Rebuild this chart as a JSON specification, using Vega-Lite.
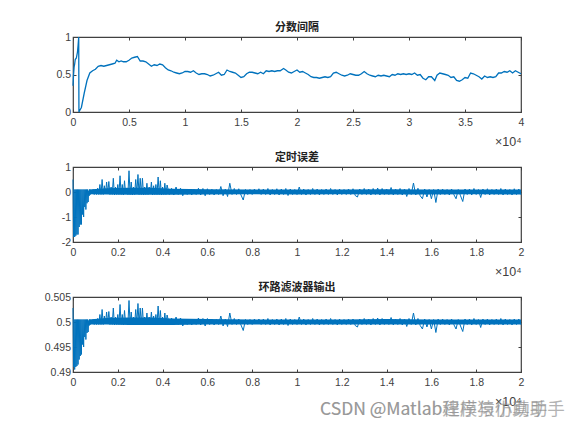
{"$schema":"https://vega.github.io/schema/vega-lite/v6.json","padding":{"left":43,"top":21,"right":5,"bottom":5},"background":"white","bounds":"flush","spacing":55,
"config":{"view":{"stroke":"#404040","strokeWidth":1.2},"title":{"font":"Noto Sans CJK SC","fontSize":11,"fontWeight":"bold","color":"#222222","offset":-1},
"axis":{"grid":false,"domain":false,"labelFlush":false,"labelOverlap":false,"tickColor":"#404040","tickSize":-3,"tickWidth":1,"labelFont":"Liberation Sans","labelFontSize":10.5,"labelColor":"#404040","labelAngle":0,"titleFont":"Liberation Sans","titleFontWeight":"normal","titleFontSize":12.5,"titleColor":"#404040"},"axisX":{"labelPadding":8},"axisY":{"labelPadding":5.5}},
"datasets":{"frac":[{"x":0,"y":0.35},{"x":50,"y":0.5},{"x":100,"y":0.6},{"x":150,"y":0.64},{"x":200,"y":0.7},{"x":300,"y":0.72},{"x":400,"y":0.8},{"x":450,"y":0.88},{"x":510,"y":1},{"x":530,"y":0},{"x":600,"y":0.02},{"x":750,"y":0.06},{"x":1000,"y":0.25},{"x":1250,"y":0.42},{"x":1500,"y":0.52},{"x":1750,"y":0.55},{"x":2000,"y":0.57},{"x":2250,"y":0.61},{"x":2500,"y":0.62},{"x":2750,"y":0.61},{"x":3000,"y":0.62},{"x":3250,"y":0.63},{"x":3500,"y":0.64},{"x":3750,"y":0.65},{"x":3900,"y":0.69},{"x":4100,"y":0.67},{"x":4300,"y":0.68},{"x":4500,"y":0.67},{"x":4750,"y":0.67},{"x":5000,"y":0.69},{"x":5250,"y":0.72},{"x":5500,"y":0.73},{"x":5750,"y":0.74},{"x":6000,"y":0.68},{"x":6250,"y":0.68},{"x":6500,"y":0.67},{"x":6750,"y":0.64},{"x":7000,"y":0.61},{"x":7250,"y":0.63},{"x":7500,"y":0.62},{"x":7750,"y":0.64},{"x":8000,"y":0.63},{"x":8250,"y":0.59},{"x":8500,"y":0.56},{"x":8750,"y":0.55},{"x":9000,"y":0.53},{"x":9250,"y":0.52},{"x":9500,"y":0.51},{"x":9750,"y":0.52},{"x":10000,"y":0.54},{"x":10250,"y":0.54},{"x":10500,"y":0.53},{"x":10750,"y":0.55},{"x":11000,"y":0.52},{"x":11250,"y":0.5},{"x":11500,"y":0.51},{"x":11750,"y":0.51},{"x":12000,"y":0.5},{"x":12250,"y":0.48},{"x":12500,"y":0.49},{"x":12750,"y":0.51},{"x":13000,"y":0.53},{"x":13250,"y":0.49},{"x":13500,"y":0.5},{"x":13750,"y":0.56},{"x":14000,"y":0.54},{"x":14250,"y":0.53},{"x":14500,"y":0.52},{"x":14750,"y":0.49},{"x":15000,"y":0.46},{"x":15250,"y":0.47},{"x":15500,"y":0.51},{"x":15750,"y":0.53},{"x":16000,"y":0.53},{"x":16250,"y":0.52},{"x":16500,"y":0.51},{"x":16750,"y":0.53},{"x":17000,"y":0.51},{"x":17250,"y":0.55},{"x":17500,"y":0.54},{"x":17750,"y":0.55},{"x":18000,"y":0.54},{"x":18250,"y":0.55},{"x":18500,"y":0.55},{"x":18800,"y":0.58},{"x":19000,"y":0.56},{"x":19250,"y":0.53},{"x":19500,"y":0.52},{"x":19750,"y":0.54},{"x":20000,"y":0.56},{"x":20250,"y":0.53},{"x":20500,"y":0.54},{"x":20750,"y":0.52},{"x":21000,"y":0.5},{"x":21250,"y":0.47},{"x":21500,"y":0.46},{"x":21750,"y":0.46},{"x":22000,"y":0.45},{"x":22250,"y":0.46},{"x":22500,"y":0.47},{"x":22750,"y":0.46},{"x":23000,"y":0.47},{"x":23250,"y":0.52},{"x":23500,"y":0.53},{"x":23750,"y":0.51},{"x":24000,"y":0.49},{"x":24250,"y":0.48},{"x":24500,"y":0.49},{"x":24750,"y":0.51},{"x":25000,"y":0.5},{"x":25250,"y":0.49},{"x":25500,"y":0.49},{"x":25750,"y":0.51},{"x":26000,"y":0.54},{"x":26250,"y":0.51},{"x":26500,"y":0.49},{"x":26750,"y":0.48},{"x":27000,"y":0.47},{"x":27250,"y":0.49},{"x":27500,"y":0.48},{"x":27750,"y":0.49},{"x":28000,"y":0.48},{"x":28250,"y":0.47},{"x":28500,"y":0.5},{"x":28750,"y":0.49},{"x":29000,"y":0.51},{"x":29250,"y":0.5},{"x":29500,"y":0.51},{"x":29750,"y":0.5},{"x":30000,"y":0.51},{"x":30250,"y":0.5},{"x":30500,"y":0.52},{"x":30750,"y":0.49},{"x":31000,"y":0.5},{"x":31250,"y":0.45},{"x":31500,"y":0.43},{"x":31750,"y":0.47},{"x":32000,"y":0.47},{"x":32300,"y":0.42},{"x":32500,"y":0.49},{"x":32750,"y":0.52},{"x":33000,"y":0.51},{"x":33250,"y":0.5},{"x":33500,"y":0.49},{"x":33750,"y":0.46},{"x":34000,"y":0.47},{"x":34250,"y":0.42},{"x":34500,"y":0.41},{"x":34750,"y":0.43},{"x":35000,"y":0.46},{"x":35250,"y":0.45},{"x":35500,"y":0.52},{"x":35750,"y":0.51},{"x":36000,"y":0.49},{"x":36250,"y":0.47},{"x":36500,"y":0.44},{"x":36750,"y":0.48},{"x":37000,"y":0.46},{"x":37250,"y":0.47},{"x":37500,"y":0.46},{"x":37750,"y":0.47},{"x":38000,"y":0.52},{"x":38250,"y":0.52},{"x":38500,"y":0.54},{"x":38750,"y":0.53},{"x":39000,"y":0.55},{"x":39250,"y":0.52},{"x":39500,"y":0.55},{"x":39750,"y":0.53},{"x":40000,"y":0.51}],
"band":[{"x":700,"lo":-0.09,"hi":0.1,"flo":0.4995,"fhi":0.5005},{"x":1500,"lo":-0.1,"hi":0.15,"flo":0.4995,"fhi":0.5008},{"x":2500,"lo":-0.11,"hi":0.17,"flo":0.4994,"fhi":0.5009},{"x":3500,"lo":-0.11,"hi":0.17,"flo":0.4994,"fhi":0.5009},{"x":4400,"lo":-0.11,"hi":0.13,"flo":0.4994,"fhi":0.5007},{"x":6000,"lo":-0.1,"hi":0.11,"flo":0.4995,"fhi":0.5006},{"x":8000,"lo":-0.09,"hi":0.1,"flo":0.4995,"fhi":0.5005},{"x":10000,"lo":-0.1,"hi":0.1,"flo":0.4995,"fhi":0.5005},{"x":12000,"lo":-0.09,"hi":0.1,"flo":0.4995,"fhi":0.5005},{"x":14000,"lo":-0.1,"hi":0.11,"flo":0.4995,"fhi":0.5006},{"x":16000,"lo":-0.1,"hi":0.1,"flo":0.4995,"fhi":0.5005},{"x":18000,"lo":-0.09,"hi":0.1,"flo":0.4995,"fhi":0.5005},{"x":20000,"lo":-0.1,"hi":0.1,"flo":0.4995,"fhi":0.5005}],
"timing":[{"x":0,"e":0.5,"f":0.5028},{"x":25,"e":-1.8,"f":0.491},{"x":50,"e":0.1,"f":0.5005},{"x":75,"e":-1.8,"f":0.4905},{"x":100,"e":0.1,"f":0.5005},{"x":125,"e":-1.75,"f":0.491},{"x":150,"e":0.1,"f":0.5005},{"x":175,"e":-1.7,"f":0.4912},{"x":200,"e":0.1,"f":0.5005},{"x":225,"e":-1.7,"f":0.4915},{"x":250,"e":0.1,"f":0.5005},{"x":275,"e":-1.4,"f":0.4925},{"x":300,"e":0.1,"f":0.5005},{"x":325,"e":-1.3,"f":0.4932},{"x":350,"e":0.1,"f":0.5005},{"x":375,"e":-1.3,"f":0.4935},{"x":400,"e":0.1,"f":0.5005},{"x":425,"e":-0.9,"f":0.4955},{"x":450,"e":0.1,"f":0.5005},{"x":475,"e":-1,"f":0.495},{"x":500,"e":0.1,"f":0.5005},{"x":525,"e":-0.6,"f":0.497},{"x":550,"e":0.1,"f":0.5005},{"x":575,"e":-0.7,"f":0.4965},{"x":600,"e":0.1,"f":0.5005},{"x":625,"e":-0.45,"f":0.4978},{"x":650,"e":0.1,"f":0.5005},{"x":675,"e":-0.4,"f":0.498},{"x":700,"e":0.05,"f":0.5003},{"x":725,"e":-0.15,"f":0.4993},{"x":750,"e":0.1,"f":0.5005},{"x":775,"e":-0.1,"f":0.4995},{"x":800,"e":0.08,"f":0.5004},{"x":850,"e":-0.08,"f":0.4996},{"x":900,"e":0.1,"f":0.5005},{"x":950,"e":-0.1,"f":0.4995},{"x":1000,"e":0.12,"f":0.5006},{"x":1050,"e":-0.1,"f":0.4995},{"x":1100,"e":0.15,"f":0.5007},{"x":1150,"e":-0.1,"f":0.4995},{"x":1200,"e":0.3,"f":0.5015},{"x":1250,"e":-0.1,"f":0.4995},{"x":1300,"e":0.5,"f":0.5025},{"x":1350,"e":-0.1,"f":0.4995},{"x":1400,"e":0.25,"f":0.5012},{"x":1450,"e":-0.08,"f":0.4996},{"x":1500,"e":0.4,"f":0.502},{"x":1550,"e":-0.05,"f":0.4997},{"x":1600,"e":0.42,"f":0.5021},{"x":1650,"e":-0.1,"f":0.4995},{"x":1700,"e":0.2,"f":0.501},{"x":1750,"e":-0.1,"f":0.4995},{"x":1800,"e":0.55,"f":0.5028},{"x":1850,"e":-0.12,"f":0.4994},{"x":1900,"e":0.2,"f":0.501},{"x":1950,"e":-0.1,"f":0.4995},{"x":2000,"e":0.3,"f":0.5015},{"x":2050,"e":-0.1,"f":0.4995},{"x":2100,"e":0.65,"f":0.5035},{"x":2150,"e":-0.1,"f":0.4995},{"x":2200,"e":0.3,"f":0.5015},{"x":2250,"e":-0.12,"f":0.4994},{"x":2300,"e":0.45,"f":0.5023},{"x":2350,"e":-0.08,"f":0.4996},{"x":2400,"e":0.15,"f":0.5008},{"x":2450,"e":-0.1,"f":0.4995},{"x":2500,"e":0.85,"f":0.5043},{"x":2550,"e":-0.1,"f":0.4995},{"x":2600,"e":0.4,"f":0.502},{"x":2650,"e":-0.12,"f":0.4994},{"x":2700,"e":0.2,"f":0.501},{"x":2750,"e":-0.1,"f":0.4995},{"x":2800,"e":0.5,"f":0.5025},{"x":2850,"e":-0.05,"f":0.4997},{"x":2900,"e":0.7,"f":0.5037},{"x":2950,"e":-0.1,"f":0.4995},{"x":3000,"e":0.55,"f":0.5028},{"x":3050,"e":-0.1,"f":0.4995},{"x":3100,"e":0.55,"f":0.5028},{"x":3150,"e":-0.12,"f":0.4994},{"x":3200,"e":0.2,"f":0.501},{"x":3250,"e":-0.1,"f":0.4995},{"x":3300,"e":0.35,"f":0.5018},{"x":3350,"e":-0.1,"f":0.4995},{"x":3400,"e":0.2,"f":0.501},{"x":3450,"e":-0.08,"f":0.4996},{"x":3500,"e":0.4,"f":0.502},{"x":3550,"e":-0.12,"f":0.4994},{"x":3600,"e":0.25,"f":0.5012},{"x":3650,"e":-0.1,"f":0.4995},{"x":3700,"e":0.3,"f":0.5015},{"x":3750,"e":-0.1,"f":0.4995},{"x":3800,"e":0.6,"f":0.5032},{"x":3850,"e":-0.1,"f":0.4995},{"x":3900,"e":0.45,"f":0.5023},{"x":3950,"e":-0.12,"f":0.4994},{"x":4000,"e":0.2,"f":0.501},{"x":4050,"e":-0.1,"f":0.4995},{"x":4100,"e":0.35,"f":0.5018},{"x":4150,"e":-0.1,"f":0.4995},{"x":4200,"e":0.28,"f":0.5014},{"x":4300,"e":-0.1,"f":0.4995},{"x":4400,"e":0.15,"f":0.5008},{"x":4500,"e":-0.12,"f":0.4994},{"x":4600,"e":0.2,"f":0.501},{"x":4700,"e":-0.1,"f":0.4995},{"x":4800,"e":0.15,"f":0.5008},{"x":4900,"e":-0.15,"f":0.4992},{"x":5000,"e":0.12,"f":0.5006},{"x":5100,"e":-0.1,"f":0.4995},{"x":5200,"e":0.1,"f":0.5005},{"x":5300,"e":-0.12,"f":0.4994},{"x":5400,"e":0.1,"f":0.5005},{"x":5500,"e":-0.1,"f":0.4995},{"x":5600,"e":0.15,"f":0.5008},{"x":5700,"e":-0.12,"f":0.4994},{"x":5800,"e":0.14,"f":0.5007},{"x":5900,"e":-0.15,"f":0.4992},{"x":6000,"e":0.13,"f":0.5007},{"x":6100,"e":-0.1,"f":0.4995},{"x":6200,"e":0.11,"f":0.5006},{"x":6300,"e":-0.12,"f":0.4994},{"x":6400,"e":0.1,"f":0.5005},{"x":6500,"e":-0.1,"f":0.4995},{"x":6600,"e":0.22,"f":0.5012},{"x":6700,"e":-0.15,"f":0.4992},{"x":6800,"e":0.12,"f":0.5006},{"x":6900,"e":-0.18,"f":0.4991},{"x":7000,"e":0.35,"f":0.5018},{"x":7100,"e":-0.1,"f":0.4995},{"x":7200,"e":0.14,"f":0.5007},{"x":7300,"e":-0.1,"f":0.4995},{"x":7400,"e":0.13,"f":0.5006},{"x":7500,"e":-0.12,"f":0.4994},{"x":7600,"e":-0.32,"f":0.4983},{"x":7700,"e":0.1,"f":0.5005},{"x":7800,"e":-0.1,"f":0.4995},{"x":7900,"e":0.1,"f":0.5005},{"x":8000,"e":-0.1,"f":0.4995},{"x":8100,"e":0.12,"f":0.5006},{"x":8200,"e":-0.08,"f":0.4996},{"x":8300,"e":0.13,"f":0.5006},{"x":8400,"e":-0.1,"f":0.4995},{"x":8500,"e":0.12,"f":0.5006},{"x":8600,"e":-0.1,"f":0.4995},{"x":8700,"e":0.14,"f":0.5007},{"x":8800,"e":-0.12,"f":0.4994},{"x":8900,"e":0.1,"f":0.5005},{"x":9000,"e":-0.1,"f":0.4995},{"x":9100,"e":0.13,"f":0.5006},{"x":9200,"e":-0.12,"f":0.4994},{"x":9300,"e":0.12,"f":0.5006},{"x":9400,"e":-0.1,"f":0.4995},{"x":9500,"e":0.14,"f":0.5007},{"x":9600,"e":-0.14,"f":0.4993},{"x":9700,"e":0.12,"f":0.5006},{"x":9800,"e":-0.1,"f":0.4995},{"x":9900,"e":0.1,"f":0.5005},{"x":10000,"e":-0.1,"f":0.4995},{"x":10100,"e":0.2,"f":0.501},{"x":10200,"e":-0.1,"f":0.4995},{"x":10300,"e":0.12,"f":0.5006},{"x":10400,"e":-0.12,"f":0.4994},{"x":10500,"e":0.1,"f":0.5005},{"x":10600,"e":-0.1,"f":0.4995},{"x":10700,"e":0.14,"f":0.5007},{"x":10800,"e":-0.1,"f":0.4995},{"x":10900,"e":0.12,"f":0.5006},{"x":11000,"e":-0.12,"f":0.4994},{"x":11100,"e":0.1,"f":0.5005},{"x":11200,"e":-0.1,"f":0.4995},{"x":11300,"e":0.12,"f":0.5006},{"x":11400,"e":-0.1,"f":0.4995},{"x":11500,"e":0.14,"f":0.5007},{"x":11600,"e":-0.1,"f":0.4995},{"x":11700,"e":0.1,"f":0.5005},{"x":11800,"e":-0.12,"f":0.4994},{"x":11900,"e":0.12,"f":0.5006},{"x":12000,"e":-0.1,"f":0.4995},{"x":12100,"e":0.1,"f":0.5005},{"x":12200,"e":-0.1,"f":0.4995},{"x":12300,"e":0.12,"f":0.5006},{"x":12400,"e":-0.1,"f":0.4995},{"x":12500,"e":0.13,"f":0.5006},{"x":12600,"e":-0.14,"f":0.4993},{"x":12700,"e":-0.2,"f":0.499},{"x":12800,"e":0.12,"f":0.5006},{"x":12900,"e":-0.1,"f":0.4995},{"x":13000,"e":0.14,"f":0.5007},{"x":13100,"e":-0.1,"f":0.4995},{"x":13200,"e":0.12,"f":0.5006},{"x":13300,"e":-0.12,"f":0.4994},{"x":13400,"e":0.14,"f":0.5007},{"x":13500,"e":-0.1,"f":0.4995},{"x":13600,"e":0.16,"f":0.5008},{"x":13700,"e":-0.12,"f":0.4994},{"x":13800,"e":0.14,"f":0.5007},{"x":13900,"e":-0.1,"f":0.4995},{"x":14000,"e":0.12,"f":0.5006},{"x":14100,"e":-0.1,"f":0.4995},{"x":14200,"e":0.18,"f":0.5009},{"x":14300,"e":-0.12,"f":0.4994},{"x":14400,"e":0.12,"f":0.5006},{"x":14500,"e":-0.1,"f":0.4995},{"x":14600,"e":0.14,"f":0.5007},{"x":14700,"e":-0.12,"f":0.4994},{"x":14800,"e":0.12,"f":0.5006},{"x":14900,"e":-0.18,"f":0.4991},{"x":15000,"e":0.14,"f":0.5007},{"x":15100,"e":-0.1,"f":0.4995},{"x":15200,"e":0.36,"f":0.5018},{"x":15300,"e":-0.12,"f":0.4994},{"x":15400,"e":0.15,"f":0.5007},{"x":15500,"e":-0.15,"f":0.4993},{"x":15600,"e":-0.27,"f":0.4986},{"x":15700,"e":0.12,"f":0.5006},{"x":15800,"e":-0.2,"f":0.499},{"x":15900,"e":0.1,"f":0.5005},{"x":16000,"e":-0.27,"f":0.4986},{"x":16100,"e":0.1,"f":0.5005},{"x":16200,"e":-0.42,"f":0.4979},{"x":16300,"e":0.12,"f":0.5006},{"x":16400,"e":-0.1,"f":0.4995},{"x":16500,"e":0.12,"f":0.5006},{"x":16600,"e":-0.1,"f":0.4995},{"x":16700,"e":0.1,"f":0.5005},{"x":16800,"e":-0.12,"f":0.4994},{"x":16900,"e":0.12,"f":0.5006},{"x":17000,"e":-0.1,"f":0.4995},{"x":17100,"e":-0.27,"f":0.4986},{"x":17200,"e":0.1,"f":0.5005},{"x":17300,"e":-0.15,"f":0.4992},{"x":17400,"e":-0.38,"f":0.4981},{"x":17500,"e":0.12,"f":0.5006},{"x":17600,"e":-0.1,"f":0.4995},{"x":17700,"e":0.12,"f":0.5006},{"x":17800,"e":-0.12,"f":0.4994},{"x":17900,"e":0.14,"f":0.5007},{"x":18000,"e":-0.1,"f":0.4995},{"x":18100,"e":0.1,"f":0.5005},{"x":18200,"e":-0.22,"f":0.4989},{"x":18300,"e":0.12,"f":0.5006},{"x":18400,"e":-0.1,"f":0.4995},{"x":18500,"e":0.13,"f":0.5006},{"x":18600,"e":-0.12,"f":0.4994},{"x":18700,"e":0.1,"f":0.5005},{"x":18800,"e":-0.1,"f":0.4995},{"x":18900,"e":0.12,"f":0.5006},{"x":19000,"e":-0.1,"f":0.4995},{"x":19100,"e":0.14,"f":0.5007},{"x":19200,"e":-0.12,"f":0.4994},{"x":19300,"e":0.12,"f":0.5006},{"x":19400,"e":-0.1,"f":0.4995},{"x":19500,"e":0.1,"f":0.5005},{"x":19600,"e":-0.12,"f":0.4994},{"x":19700,"e":0.13,"f":0.5006},{"x":19800,"e":-0.1,"f":0.4995},{"x":19900,"e":0.12,"f":0.5006},{"x":20000,"e":-0.1,"f":0.4995}],
"mark":[{"x":11027,"y":0.4825,"t":"CSDN @Matlab程序猿小助手"},{"x":11027,"y":0.4825,"t":"CSDN @Matlab建模与仿真助手"}]},
"vconcat":[
{"title":"分数间隔","width":448,"height":75,"data":{"name":"frac"},"resolve":{"axis":{"x":"independent","y":"independent"}},"layer":[
{"mark":{"type":"line","color":"#0072BD","strokeWidth":1.3},"encoding":{"x":{"field":"x","type":"quantitative","scale":{"domain":[0,40000],"nice":false},"axis":{"values":[0,5000,10000,15000,20000,25000,30000,35000,40000],"labelExpr":"''+datum.value/10000","title":"×10⁴","titleAnchor":"end","titleAlign":"right","titlePadding":7.5}},"y":{"field":"y","type":"quantitative","scale":{"domain":[0,1],"nice":false},"axis":{"values":[0,0.5,1],"labelExpr":"''+datum.value","title":null}}}},
{"mark":{"type":"line","opacity":0},"encoding":{"x":{"field":"x","type":"quantitative","scale":{"domain":[0,40000],"nice":false},"axis":{"orient":"top","values":[0,5000,10000,15000,20000,25000,30000,35000,40000],"labels":false,"title":null}},"y":{"field":"y","type":"quantitative","scale":{"domain":[0,1],"nice":false},"axis":{"orient":"right","values":[0,0.5,1],"labels":false,"title":null}}}}]},
{"title":"定时误差","width":448,"height":75,"resolve":{"axis":{"x":"independent","y":"independent"}},"layer":[
{"data":{"name":"band"},"mark":{"type":"area","color":"#0072BD"},"encoding":{"x":{"field":"x","type":"quantitative","scale":{"domain":[0,20000],"nice":false},"axis":null},"y":{"field":"lo","type":"quantitative","scale":{"domain":[-2,1],"nice":false},"axis":null},"y2":{"field":"hi"}}},
{"data":{"name":"timing"},"mark":{"type":"line","color":"#0072BD","strokeWidth":1},"encoding":{"x":{"field":"x","type":"quantitative","scale":{"domain":[0,20000],"nice":false},"axis":{"values":[0,2000,4000,6000,8000,10000,12000,14000,16000,18000,20000],"labelExpr":"''+datum.value/10000","title":"×10⁴","titleAnchor":"end","titleAlign":"right","titlePadding":7.5}},"y":{"field":"e","type":"quantitative","scale":{"domain":[-2,1],"nice":false},"axis":{"values":[-2,-1,0,1],"labelExpr":"''+datum.value","title":null}}}},
{"data":{"name":"timing"},"mark":{"type":"line","opacity":0},"encoding":{"x":{"field":"x","type":"quantitative","scale":{"domain":[0,20000],"nice":false},"axis":{"orient":"top","values":[0,2000,4000,6000,8000,10000,12000,14000,16000,18000,20000],"labels":false,"title":null}},"y":{"field":"e","type":"quantitative","scale":{"domain":[-2,1],"nice":false},"axis":{"orient":"right","values":[-2,-1,0,1],"labels":false,"title":null}}}}]},
{"title":"环路滤波器输出","width":448,"height":75,"resolve":{"axis":{"x":"independent","y":"independent"}},"layer":[
{"data":{"name":"band"},"mark":{"type":"area","color":"#0072BD"},"encoding":{"x":{"field":"x","type":"quantitative","scale":{"domain":[0,20000],"nice":false},"axis":null},"y":{"field":"flo","type":"quantitative","scale":{"domain":[0.49,0.505],"nice":false},"axis":null},"y2":{"field":"fhi"}}},
{"data":{"name":"timing"},"mark":{"type":"line","color":"#0072BD","strokeWidth":1},"encoding":{"x":{"field":"x","type":"quantitative","scale":{"domain":[0,20000],"nice":false},"axis":{"values":[0,2000,4000,6000,8000,10000,12000,14000,16000,18000,20000],"labelExpr":"''+datum.value/10000","title":"×10⁴","titleAnchor":"end","titleAlign":"right","titlePadding":7.5}},"y":{"field":"f","type":"quantitative","scale":{"domain":[0.49,0.505],"nice":false},"axis":{"values":[0.49,0.495,0.5,0.505],"labelExpr":"''+datum.value","title":null}}}},
{"data":{"name":"timing"},"mark":{"type":"line","opacity":0},"encoding":{"x":{"field":"x","type":"quantitative","scale":{"domain":[0,20000],"nice":false},"axis":{"orient":"top","values":[0,2000,4000,6000,8000,10000,12000,14000,16000,18000,20000],"labels":false,"title":null}},"y":{"field":"f","type":"quantitative","scale":{"domain":[0.49,0.505],"nice":false},"axis":{"orient":"right","values":[0.49,0.495,0.5,0.505],"labels":false,"title":null}}}},
{"data":{"name":"mark"},"mark":{"type":"text","align":"left","baseline":"middle","fontSize":17.5,"font":"Noto Sans CJK SC","color":"#8c8c8c","opacity":0.65,"clip":false},"encoding":{"x":{"field":"x","type":"quantitative","scale":{"domain":[0,20000],"nice":false},"axis":null},"y":{"field":"y","type":"quantitative","scale":{"domain":[0.49,0.505],"nice":false},"axis":null},"text":{"field":"t"}}}]}
]}
